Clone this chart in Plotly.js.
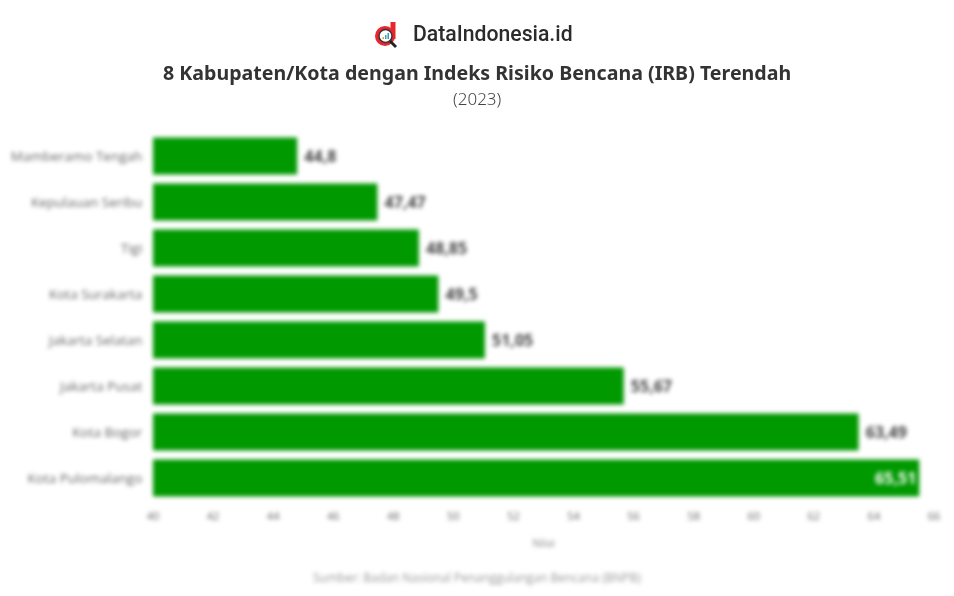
<!DOCTYPE html>
<html><head><meta charset="utf-8">
<script src="https://cdn.plot.ly/plotly-3.0.1.min.js"></script>
<style>html,body{margin:0;padding:0;background:#fff}</style></head>
<body><div id="chart" style="width:954px;height:596px"></div>
<script>
const categories = ["Mamberamo Tengah","Kepulauan Seribu","Tigi","Kota Surakarta","Jakarta Selatan","Jakarta Pusat","Kota Bogor","Kota Pulomalango"];
const values = [44.8,47.47,48.85,49.5,51.05,55.67,63.49,65.51];
const labels = ["44,8","47,47","48,85","49,5","51,05","55,67","63,49","65,51"];
const labelPositions = ["outside","outside","outside","outside","outside","outside","outside","inside"];
const tickValues = [40,42,44,46,48,50,52,54,56,58,60,62,64,66];
const barColor = "#009900";
const logo = '<svg xmlns="http://www.w3.org/2000/svg" viewBox="0 0 24 27"><path d="M15.500 1h5v17h-5z" fill="#e8262d"/><circle cx="10" cy="15" r="10" fill="#e8262d"/><circle cx="10.500" cy="15" r="6.500" fill="#fff" stroke="#333" stroke-width="1.4"/><path d="M7.500 18v-2h1.500v2z" fill="#f0a020"/><path d="M10 18v-4h1.500v4z" fill="#3a9"/><path d="M12.500 18v-6h1.500v6z" fill="#39c"/><path d="M15 20l6 6" stroke="#222" stroke-width="2.8"/></svg>';
const title = "<b>8 Kabupaten/Kota dengan Indeks Risiko Bencana (IRB) Terendah</b>";
const T=133,H=368,W=781,L=153;
const px=x=>(x-L)/W, py=y=>1+(T-y)/H;
Plotly.newPlot("chart",[{
  type:"bar",orientation:"h",y:categories,x:values,
  text:labels,texttemplate:labelPositions.map(p=>p==="outside"?"&nbsp;<b>%{text}</b>":"<b>%{text}</b>"),
  textposition:labelPositions,insidetextanchor:"end",textangle:0,cliponaxis:false,constraintext:"none",
  outsidetextfont:{family:"Open Sans",size:16,color:"#444"},
  insidetextfont:{family:"Open Sans",size:16,color:"#fff"},
  marker:{color:barColor},hoverinfo:"none"
}],{
  width:954,height:596,paper_bgcolor:"#fff",plot_bgcolor:"#fff",showlegend:false,bargap:0.2,
  margin:{l:L,r:20,t:T,b:95},
  xaxis:{range:[40,66],tickvals:tickValues,ticktext:tickValues.map(String),showgrid:false,zeroline:false,
    ticks:"outside",ticklen:5,tickcolor:"rgba(0,0,0,0)",
    tickfont:{family:"Open Sans",size:11,color:"#666"},title:{text:"Nilai",standoff:17,font:{family:"Open Sans",size:11,color:"#888"}}},
  yaxis:{categoryorder:"array",categoryarray:categories.slice().reverse(),showgrid:false,zeroline:false,
    ticks:"outside",ticklen:7,tickcolor:"rgba(0,0,0,0)",
    tickfont:{family:"Open Sans",size:13.5,color:"#666"}},
  images:[{source:"data:image/svg+xml;utf8,"+encodeURIComponent(logo),xref:"paper",yref:"paper",xanchor:"left",yanchor:"top",
    x:px(375),y:py(21),sizex:24/W,sizey:27/H,sizing:"contain"}],
  annotations:[
   {text:"DataIndonesia.id",xref:"paper",yref:"paper",x:px(410.5),y:py(34),xanchor:"left",yanchor:"middle",showarrow:false,font:{family:"Roboto",size:21.200,weight:500,color:"#2b2b2b"}},
   {text:title,xref:"paper",yref:"paper",x:px(477),y:py(73),xanchor:"center",yanchor:"middle",showarrow:false,font:{family:"Noto Sans",size:19.600,color:"#333"}},
   {text:"(2023)",xref:"paper",yref:"paper",x:px(477),y:py(99),xanchor:"center",yanchor:"middle",showarrow:false,font:{family:"Noto Sans",size:17,weight:300,color:"#444"}},
   {text:"Sumber: Badan Nasional Penanggulangan Bencana (BNPB)",xref:"paper",yref:"paper",x:px(477),y:py(577),xanchor:"center",yanchor:"middle",showarrow:false,font:{family:"Open Sans",size:12,color:"#999"}}
  ]
},{displayModeBar:false,staticPlot:true}).then(gd=>{
  const blur=el=>{if(el)el.style.filter="blur(2.2px)"};
  gd.querySelectorAll(".cartesianlayer").forEach(blur);
  blur(gd.querySelectorAll(".annotation")[3]);
  blur(gd.querySelector(".xtitle"));
});
</script></body></html>
